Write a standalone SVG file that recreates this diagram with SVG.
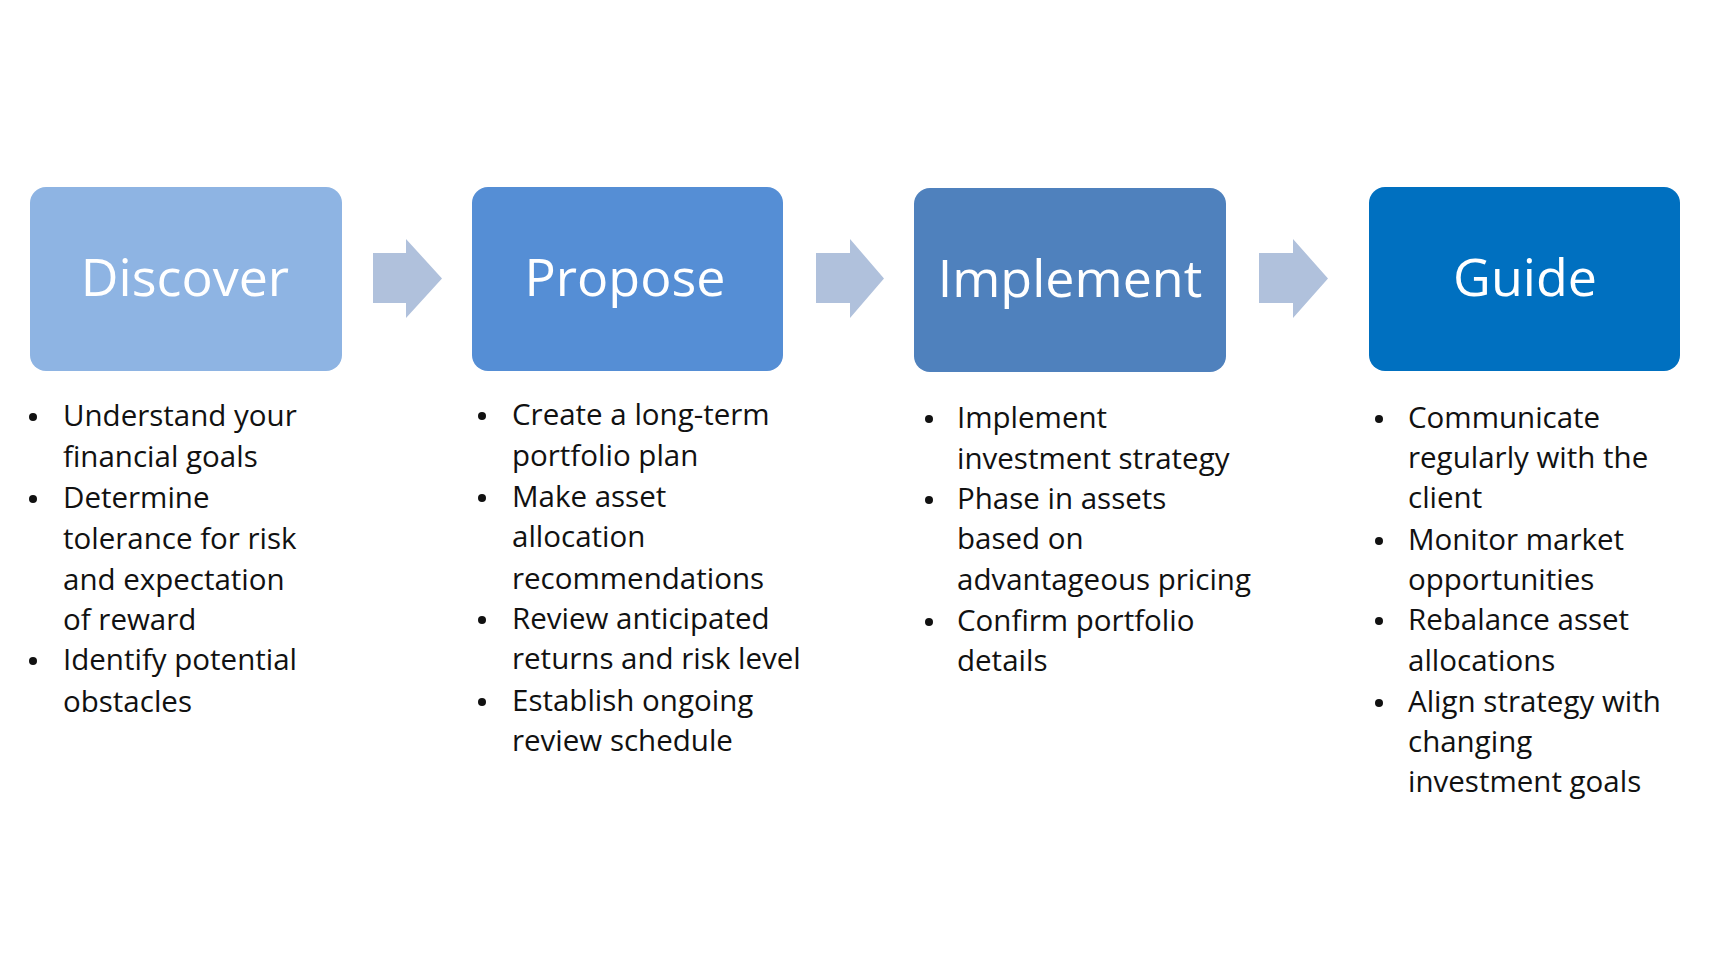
<svg xmlns="http://www.w3.org/2000/svg" width="1734" height="975" viewBox="0 0 1734 975">
  <style>
    .box { stroke: none; }
    .title { font-family: "Open Sans", "Liberation Sans", sans-serif; font-size: 52px; fill: #ffffff; text-anchor: middle; }
    .item { font-family: "Open Sans", "Liberation Sans", sans-serif; font-size: 29.5px; fill: #111111; }
    .dot { fill: #111111; }
    .arrow { fill: #B0C1DC; stroke: none; }
  </style>
  <rect x="0" y="0" width="1734" height="975" fill="#ffffff"/>

  <g id="connectors">
    <polygon class="arrow" points="373,253 406,253 406,239 442,278.5 406,318 406,303 373,303"/>
    <polygon class="arrow" points="816,253 850,253 850,239 884,278.5 850,318 850,303 816,303"/>
    <polygon class="arrow" points="1259,253 1293,253 1293,239 1328,278.5 1293,318 1293,303 1259,303"/>
  </g>

  <g id="discover">
    <rect class="box" x="30" y="187" width="312" height="184" rx="16" fill="#8EB4E3"/>
    <text class="title" x="185" y="296">Discover</text>
    <circle class="dot" cx="33" cy="417" r="4"/>
    <circle class="dot" cx="33" cy="499" r="4"/>
    <circle class="dot" cx="33" cy="661" r="4"/>
    <text class="item" x="63" y="426">Understand your</text>
    <text class="item" x="63" y="467">financial goals</text>
    <text class="item" x="63" y="508">Determine</text>
    <text class="item" x="63" y="549">tolerance for risk</text>
    <text class="item" x="63" y="590">and expectation</text>
    <text class="item" x="63" y="630">of reward</text>
    <text class="item" x="63" y="670">Identify potential</text>
    <text class="item" x="63" y="712">obstacles</text>
  </g>

  <g id="propose">
    <rect class="box" x="472" y="187" width="311" height="184" rx="16" fill="#558ED5"/>
    <text class="title" x="625" y="296">Propose</text>
    <circle class="dot" cx="482" cy="416" r="4"/>
    <circle class="dot" cx="482" cy="498" r="4"/>
    <circle class="dot" cx="482" cy="620" r="4"/>
    <circle class="dot" cx="482" cy="702" r="4"/>
    <text class="item" x="512" y="425">Create a long-term</text>
    <text class="item" x="512" y="466">portfolio plan</text>
    <text class="item" x="512" y="507">Make asset</text>
    <text class="item" x="512" y="547">allocation</text>
    <text class="item" x="512" y="589">recommendations</text>
    <text class="item" x="512" y="629">Review anticipated</text>
    <text class="item" x="512" y="669">returns and risk level</text>
    <text class="item" x="512" y="711">Establish ongoing</text>
    <text class="item" x="512" y="751">review schedule</text>
  </g>

  <g id="implement">
    <rect class="box" x="914" y="188" width="312" height="184" rx="16" fill="#4F81BD"/>
    <text class="title" x="1070" y="297">Implement</text>
    <circle class="dot" cx="929" cy="419" r="4"/>
    <circle class="dot" cx="929" cy="500" r="4"/>
    <circle class="dot" cx="929" cy="622" r="4"/>
    <text class="item" x="957" y="428">Implement</text>
    <text class="item" x="957" y="469">investment strategy</text>
    <text class="item" x="957" y="509">Phase in assets</text>
    <text class="item" x="957" y="549">based on</text>
    <text class="item" x="957" y="590">advantageous pricing</text>
    <text class="item" x="957" y="631">Confirm portfolio</text>
    <text class="item" x="957" y="671">details</text>
  </g>

  <g id="guide">
    <rect class="box" x="1369" y="187" width="311" height="184" rx="16" fill="#0070C0"/>
    <text class="title" x="1525" y="296">Guide</text>
    <circle class="dot" cx="1379" cy="419" r="4"/>
    <circle class="dot" cx="1379" cy="541" r="4"/>
    <circle class="dot" cx="1379" cy="621" r="4"/>
    <circle class="dot" cx="1379" cy="703" r="4"/>
    <text class="item" x="1408" y="428">Communicate</text>
    <text class="item" x="1408" y="468">regularly with the</text>
    <text class="item" x="1408" y="508">client</text>
    <text class="item" x="1408" y="550">Monitor market</text>
    <text class="item" x="1408" y="590">opportunities</text>
    <text class="item" x="1408" y="630">Rebalance asset</text>
    <text class="item" x="1408" y="671">allocations</text>
    <text class="item" x="1408" y="712">Align strategy with</text>
    <text class="item" x="1408" y="752">changing</text>
    <text class="item" x="1408" y="792">investment goals</text>
  </g>
</svg>
